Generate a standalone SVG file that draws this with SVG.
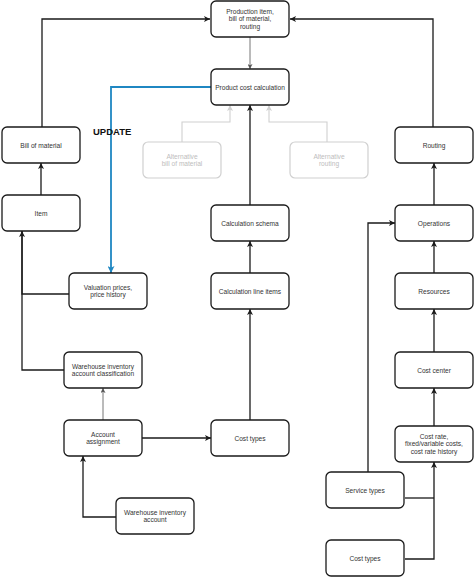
<svg xmlns="http://www.w3.org/2000/svg" width="474" height="578" viewBox="0 0 474 578">
<style>
.n rect{fill:#fff;stroke:#1a1a1a;stroke-width:1.3}
.g rect{fill:#fff;stroke:#d0d0d0;stroke-width:1.2}
text{font-family:"Liberation Sans",Arial,sans-serif;font-size:6.6px;fill:#333;text-anchor:middle}
.g text{fill:#bdbdbd}
.c path{fill:none;stroke:#1a1a1a;stroke-width:1.3}
.c path.t{stroke:#666;stroke-width:0.9}
.c path.l{stroke:#d0d0d0;stroke-width:1.1}
.c path.b{stroke:#1f87c2;stroke-width:1.8}
.lbl{font-size:9.5px;font-weight:bold;fill:#111;text-anchor:start}
</style>
<defs>
<marker id="a" viewBox="0 0 10 10" refX="10" refY="5" markerWidth="6" markerHeight="6" markerUnits="userSpaceOnUse" orient="auto"><path d="M0,0 L10,5 L0,10 L2.5,5 Z" fill="#1a1a1a"/></marker>
<marker id="at" viewBox="0 0 10 10" refX="10" refY="5" markerWidth="5" markerHeight="5" markerUnits="userSpaceOnUse" orient="auto"><path d="M0,0 L10,5 L0,10 L2.5,5 Z" fill="#555"/></marker>
<marker id="al" viewBox="0 0 10 10" refX="10" refY="5" markerWidth="6" markerHeight="6" markerUnits="userSpaceOnUse" orient="auto"><path d="M0,0 L10,5 L0,10 L2.5,5 Z" fill="#d0d0d0"/></marker>
<marker id="ab" viewBox="0 0 10 10" refX="10" refY="5" markerWidth="7" markerHeight="7" markerUnits="userSpaceOnUse" orient="auto"><path d="M0,0 L10,5 L0,10 L2.5,5 Z" fill="#1f87c2"/></marker>
</defs>
<g class="c" id="connectors">
<path d="M42,127 V19 H210" marker-end="url(#a)"/>
<path d="M433,127 V19 H290" marker-end="url(#a)"/>
<path class="t" d="M250,37 V69" marker-end="url(#at)"/>
<path class="b" d="M211,87 H111 V273" marker-end="url(#ab)"/>
<path class="l" d="M182,142 V122 H230 V105" marker-end="url(#al)"/>
<path class="l" d="M327,142 V122 H269 V105" marker-end="url(#al)"/>
<path d="M250,205 V105" marker-end="url(#a)"/>
<path d="M250,273 V241" marker-end="url(#a)"/>
<path d="M250,420 V309" marker-end="url(#a)"/>
<path d="M41,195 V163" marker-end="url(#a)"/>
<path d="M69,294 H22 V231"/>
<path d="M64,370 H22 V231" marker-end="url(#a)"/>
<path class="t" d="M103,420 V388" marker-end="url(#at)"/>
<path d="M142,438 H211" marker-end="url(#a)"/>
<path d="M116,517 H83 V456" marker-end="url(#a)"/>
<path d="M434,205 V163" marker-end="url(#a)"/>
<path d="M434,273 V241" marker-end="url(#a)"/>
<path d="M434,352 V309" marker-end="url(#a)"/>
<path d="M434,426 V388" marker-end="url(#a)"/>
<path d="M368,472 V223 H395" marker-end="url(#a)"/>
<path d="M405,498 H434"/>
<path d="M405,559 H434 V462" marker-end="url(#a)"/>
</g>
<text class="lbl" x="93" y="134.5">UPDATE</text>
<g class="n" id="production-item"><rect x="211" y="1" width="78" height="36" rx="5"/><text x="250" y="13.5">Production item,</text><text x="250" y="21">bill of material,</text><text x="250" y="28.5">routing</text></g>
<g class="n" id="product-cost-calculation"><rect x="211" y="69" width="78" height="36" rx="5"/><text x="250" y="89.5">Product cost calculation</text></g>
<g class="n" id="bill-of-material"><rect x="2" y="127" width="78" height="36" rx="5"/><text x="41" y="147.5">Bill of material</text></g>
<g class="n" id="routing"><rect x="395" y="127" width="78" height="36" rx="5"/><text x="434" y="147.5">Routing</text></g>
<g class="g" id="alt-bom"><rect x="143" y="142" width="78" height="36" rx="5"/><text x="182" y="158.5">Alternative</text><text x="182" y="166">bill of material</text></g>
<g class="g" id="alt-routing"><rect x="290" y="142" width="78" height="36" rx="5"/><text x="329" y="158.5">Alternative</text><text x="329" y="166">routing</text></g>
<g class="n" id="item"><rect x="2" y="195" width="78" height="36" rx="5"/><text x="41" y="215.5">Item</text></g>
<g class="n" id="calculation-schema"><rect x="211" y="205" width="78" height="36" rx="5"/><text x="250" y="225.5">Calculation schema</text></g>
<g class="n" id="operations"><rect x="395" y="205" width="78" height="36" rx="5"/><text x="434" y="225.5">Operations</text></g>
<g class="n" id="valuation-prices"><rect x="69" y="273" width="78" height="36" rx="5"/><text x="108" y="289.5">Valuation prices,</text><text x="108" y="297">price history</text></g>
<g class="n" id="calculation-line-items"><rect x="211" y="273" width="78" height="36" rx="5"/><text x="250" y="293.5">Calculation line items</text></g>
<g class="n" id="resources"><rect x="395" y="273" width="78" height="36" rx="5"/><text x="434" y="293.5">Resources</text></g>
<g class="n" id="warehouse-classification"><rect x="64" y="352" width="78" height="36" rx="5"/><text x="103" y="368.5">Warehouse inventory</text><text x="103" y="376">account classification</text></g>
<g class="n" id="cost-center"><rect x="395" y="352" width="78" height="36" rx="5"/><text x="434" y="372.5">Cost center</text></g>
<g class="n" id="account-assignment"><rect x="64" y="420" width="78" height="36" rx="5"/><text x="103" y="436.5">Account</text><text x="103" y="444">assignment</text></g>
<g class="n" id="cost-types-mid"><rect x="211" y="420" width="78" height="36" rx="5"/><text x="250" y="440.5">Cost types</text></g>
<g class="n" id="cost-rate"><rect x="395" y="426" width="78" height="36" rx="5"/><text x="434" y="438.5">Cost rate,</text><text x="434" y="446">fixed/variable costs,</text><text x="434" y="453.5">cost rate history</text></g>
<g class="n" id="service-types"><rect x="326" y="472" width="78" height="36" rx="5"/><text x="365" y="492.5">Service types</text></g>
<g class="n" id="warehouse-inventory-account"><rect x="116" y="498" width="78" height="36" rx="5"/><text x="155" y="514.5">Warehouse inventory</text><text x="155" y="522">account</text></g>
<g class="n" id="cost-types-right"><rect x="326" y="540" width="78" height="36" rx="5"/><text x="365" y="560.5">Cost types</text></g>
</svg>
